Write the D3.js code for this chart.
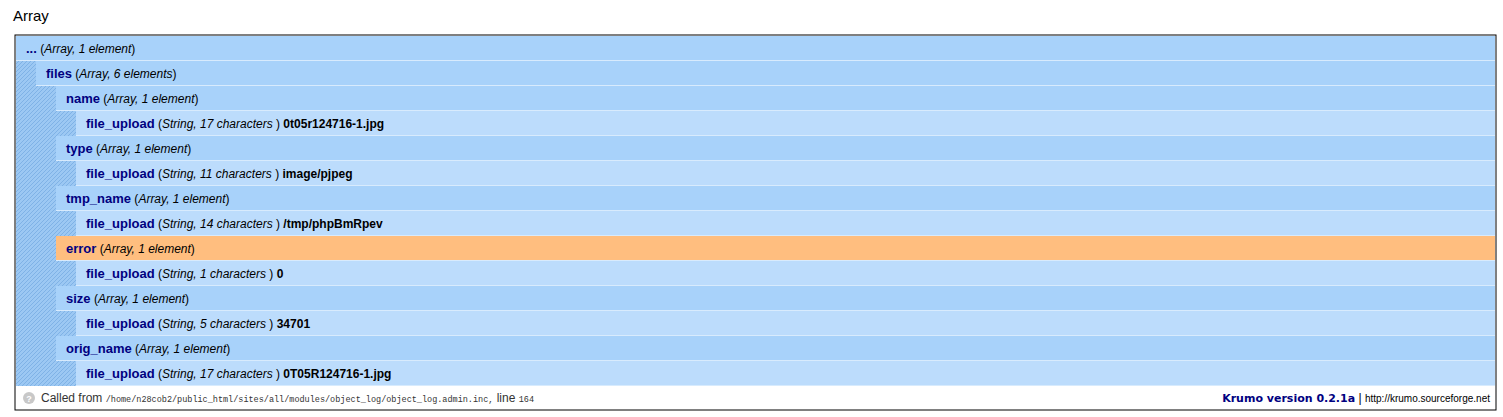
<!DOCTYPE html>
<html><head><meta charset="utf-8">
<script src="https://cdn.jsdelivr.net/npm/d3@7/dist/d3.min.js"></script>
<style>body{margin:0;background:#fff}</style>
</head><body>
<script>
// rows of the dump: depth, key, type, count, value
const depths = [0, 1, 2, 3, 2, 3, 2, 3, 2, 3, 2, 3, 2, 3];
const keys = ['...', 'files', 'name', 'file_upload', 'type', 'file_upload', 'tmp_name', 'file_upload',
  'error', 'file_upload', 'size', 'file_upload', 'orig_name', 'file_upload'];
const infos = ['Array, 1 element', 'Array, 6 elements', 'Array, 1 element', 'String, 17 characters ',
  'Array, 1 element', 'String, 11 characters ', 'Array, 1 element', 'String, 14 characters ',
  'Array, 1 element', 'String, 1 characters ', 'Array, 1 element', 'String, 5 characters ',
  'Array, 1 element', 'String, 17 characters '];
const values = ['', '', '', '0t05r124716-1.jpg', '', 'image/pjpeg', '', '/tmp/phpBmRpev',
  '', '0', '', '34701', '', '0T05R124716-1.jpg'];
const highlighted = ['error'];

const W = 1503, H = 417;
const svg = d3.select('body').append('svg').attr('width', W).attr('height', H);

const defs = svg.append('defs');
const pat = defs.append('pattern').attr('id', 'hatch').attr('patternUnits', 'userSpaceOnUse')
  .attr('width', 4).attr('height', 4);
pat.append('rect').attr('width', 4).attr('height', 4).attr('fill', '#9cc8f3');
pat.append('path').attr('d', 'M-1,1 l2,-2 M0,4 l4,-4 M3,5 l2,-2').attr('stroke', '#7fb2e6').attr('stroke-width', 1);

svg.append('text').attr('x', 13).attr('y', 21).attr('font-family', 'Liberation Sans, Arial')
  .attr('font-size', 15).attr('fill', '#000').text('Array');

const boxLeft = 15, boxRight = 1496, boxTop = 35, rowH = 25, indent = 20;
const y = d3.scaleBand().domain(d3.range(keys.length)).range([boxTop + 1, boxTop + 1 + rowH * keys.length]).padding(0);
const x = d3.scaleLinear().domain([0, 1]).range([boxLeft + 1, boxLeft + 1 + indent]);

svg.append('rect').attr('x', boxLeft).attr('y', boxTop).attr('width', boxRight - boxLeft)
  .attr('height', y.range()[1] - boxTop + 24).attr('fill', '#fff').attr('stroke', '#000').attr('stroke-width', 1);

svg.append('rect').attr('x', boxLeft + 1).attr('y', boxTop + 1).attr('width', boxRight - boxLeft - 2)
  .attr('height', y.range()[1] - boxTop - 1).attr('fill', 'url(#hatch)');

const rows = svg.selectAll('g.row').data(keys).enter().append('g')
  .attr('transform', (d, i) => `translate(0,${y(i)})`);

rows.append('rect')
  .attr('x', (d, i) => x(depths[i]))
  .attr('width', (d, i) => boxRight - 1 - x(depths[i]))
  .attr('height', rowH)
  .attr('fill', (d, i) => highlighted.includes(d) ? '#ffbe7f' : (values[i] !== '' ? '#bcdcfc' : '#a8d2fa'));
rows.append('line')
  .attr('x1', (d, i) => x(depths[i])).attr('x2', boxRight - 1)
  .attr('y1', rowH - 0.5).attr('y2', rowH - 0.5)
  .attr('stroke', '#d8ebfd').attr('stroke-width', 1);

const t = rows.append('text')
  .attr('x', (d, i) => x(depths[i]) + 10).attr('y', 17)
  .attr('font-family', 'Liberation Sans, Arial').attr('font-size', 12);
t.append('tspan').attr('font-weight', 'bold').attr('font-size', 13).attr('fill', '#000080').text(d => d);
t.append('tspan').attr('fill', '#000').text(' (');
t.append('tspan').attr('font-style', 'italic').attr('fill', '#000').text((d, i) => infos[i]);
t.append('tspan').attr('fill', '#000').text(')');
t.append('tspan').attr('font-weight', 'bold').attr('fill', '#000').text((d, i) => values[i] ? ' ' + values[i] : '');

// footer
const fy = y.range()[1] + 16;
svg.append('circle').attr('cx', 29).attr('cy', fy - 4).attr('r', 6).attr('fill', '#c8c8c8');
svg.append('text').attr('x', 29).attr('y', fy - 0.5).attr('text-anchor', 'middle').attr('font-size', 9)
  .attr('font-family', 'Liberation Sans').attr('font-weight', 'bold').attr('fill', '#fff').text('?');
const ft = svg.append('text').attr('x', 41).attr('y', fy).attr('font-family', 'Liberation Sans, Arial').attr('font-size', 12).attr('fill', '#333');
ft.append('tspan').text('Called from ');
ft.append('tspan').attr('font-family', 'Liberation Mono, monospace').attr('font-size', 8.5)
  .text('/home/n28cob2/public_html/sites/all/modules/object_log/object_log.admin.inc,');
ft.append('tspan').text(' line ');
ft.append('tspan').attr('font-family', 'Liberation Mono, monospace').attr('font-size', 8.5).text('164');

const rt = svg.append('text').attr('x', boxRight - 6).attr('y', fy).attr('text-anchor', 'end');
rt.append('tspan').attr('font-family', 'DejaVu Sans, Verdana').attr('font-weight', 'bold').attr('font-size', 11)
  .attr('fill', '#000080').text('Krumo version 0.2.1a');
rt.append('tspan').attr('font-family', 'Liberation Sans').attr('font-size', 12).attr('fill', '#000').text(' | ');
rt.append('tspan').attr('font-family', 'Liberation Sans').attr('font-size', 10).attr('fill', '#000').text('http://krumo.sourceforge.net');
</script>
</body></html>
